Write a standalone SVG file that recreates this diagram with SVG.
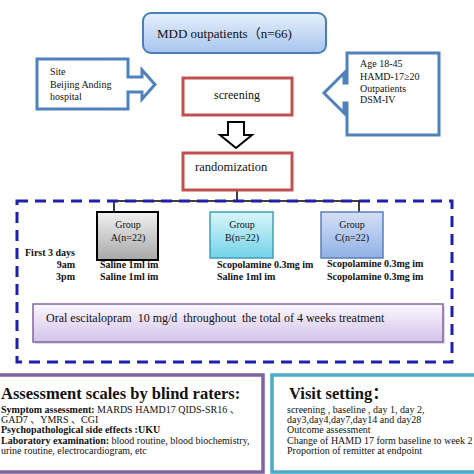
<svg xmlns="http://www.w3.org/2000/svg" width="474" height="474" viewBox="0 0 474 474">
<defs>
<linearGradient id="gMdd" x1="0" y1="0" x2="0" y2="1"><stop offset="0" stop-color="#e6f0fc"/><stop offset="1" stop-color="#a7c4ee"/></linearGradient>
<linearGradient id="gA" x1="0" y1="0" x2="0" y2="1"><stop offset="0" stop-color="#f0f0f0"/><stop offset="1" stop-color="#a8a8a8"/></linearGradient>
<linearGradient id="gB" x1="0" y1="0" x2="0" y2="1"><stop offset="0" stop-color="#d9f6fb"/><stop offset="1" stop-color="#73d2e8"/></linearGradient>
<linearGradient id="gC" x1="0" y1="0" x2="0" y2="1"><stop offset="0" stop-color="#d5e0f5"/><stop offset="1" stop-color="#8fb1e5"/></linearGradient>
<linearGradient id="gO" x1="0" y1="0" x2="0" y2="1"><stop offset="0" stop-color="#fbf8fe"/><stop offset="1" stop-color="#d3c2ea"/></linearGradient>
</defs>
<style>
text{font-family:"Liberation Serif","Noto Sans CJK SC",serif;fill:#111}
.s10{font-size:10px}
.b{font-weight:bold}
.red{fill:#fff;stroke:#c0504d;stroke-width:3}
.blu{fill:#fff;stroke:#4f81bd;stroke-width:3}
.mid{text-anchor:middle}
.end{text-anchor:end}
</style>
<rect width="474" height="474" fill="#fff"/>
<g id="connectors" fill="none">
<path d="M237,190 V201 M114,201 H359 M114,201 V212 M359,201 V212" stroke="#000" stroke-width="1.5"/>
</g>
<g id="trial-box">
<rect x="17" y="201" width="435" height="161" fill="none" stroke="#1f1fb0" stroke-width="3" stroke-dasharray="11 7"/>
</g>
<g id="mdd">
<rect x="143" y="13" width="183" height="40" rx="8" fill="url(#gMdd)" stroke="#4a7ebb" stroke-width="2"/>
<text x="157" y="38" font-size="13">MDD outpatients（n=66)</text>
</g>
<g id="site">
<path d="M37,59 H128 V77 H142 V70 L155,84.5 L142,99 V92 H128 V109 H37 Z" class="blu"/>
<text class="s10" x="50" y="75">Site</text>
<text class="s10" x="50" y="88">Beijing Anding</text>
<text class="s10" x="50" y="100">hospital</text>
</g>
<g id="criteria">
<path d="M347,53 H439 V135 H347 V103 H344 V113 L324,93 L344,73 V83 H347 Z" class="blu"/>
<text class="s10" x="360" y="67">Age 18-45</text>
<text class="s10" x="360" y="80">HAMD-17≥20</text>
<text class="s10" x="360" y="92">Outpatients</text>
<text class="s10" x="360" y="103">DSM-IV</text>
</g>
<g id="screening">
<rect x="183" y="78" width="109" height="37" class="red"/>
<text x="237" y="99" font-size="12" class="mid">screening</text>
</g>
<g id="arrow-down">
<path d="M228,122 H244 V135 H252 L236,148 L220,135 H228 Z" fill="#fff" stroke="#000" stroke-width="2"/>
</g>
<g id="randomization">
<rect x="183" y="153" width="109" height="37" class="red"/>
<text x="195" y="171" font-size="12.5">randomization</text>
</g>
<g id="groupA">
<rect x="97" y="212" width="61" height="48" fill="url(#gA)" stroke="#000" stroke-width="2"/>
<text class="s10 mid" x="128" y="228">Group</text>
<text class="s10 mid" x="128" y="241">A(n=22)</text>
</g>
<g id="groupB">
<rect x="210" y="212" width="63" height="46" fill="url(#gB)" stroke="#3f9fb8" stroke-width="1.5"/>
<text class="s10 mid" x="242" y="228">Group</text>
<text class="s10 mid" x="242" y="241">B(n=22)</text>
</g>
<g id="groupC">
<rect x="321" y="212" width="62" height="46" fill="url(#gC)" stroke="#5a7fb8" stroke-width="1.5"/>
<text class="s10 mid" x="352" y="228">Group</text>
<text class="s10 mid" x="352" y="241">C(n=22)</text>
</g>
<g id="dosing">
<text class="s10 b" x="25" y="256">First 3 days</text>
<text class="s10 b end" x="75" y="268">9am</text>
<text class="s10 b end" x="75" y="280">3pm</text>
<text class="s10 b" x="100" y="268">Saline 1ml im</text>
<text class="s10 b" x="100" y="280">Saline 1ml im</text>
<text class="s10 b" x="217" y="268">Scopolamine 0.3mg im</text>
<text class="s10 b" x="217" y="280">Saline 1ml im</text>
<text class="s10 b" x="327" y="267">Scopolamine 0.3mg im</text>
<text class="s10 b" x="327" y="280">Scopolamine 0.3mg im</text>
</g>
<g id="oral">
<rect x="35" y="306" width="410" height="38" fill="#c8c0d4" opacity="0.6"/>
<rect x="33" y="304" width="410" height="38" fill="url(#gO)" stroke="#8064a2" stroke-width="1.5"/>
<text x="46" y="322" font-size="12" xml:space="preserve">Oral escitalopram  10 mg/d  throughout  the total of 4 weeks treatment</text>
</g>
<g id="assessment">
<rect x="-10" y="375" width="273" height="97" fill="#fff" stroke="#7f64a2" stroke-width="3.5"/>
<text x="1" y="399" font-size="16.5" class="b">Assessment scales by blind raters:</text>
<text class="s10" x="1" y="413"><tspan class="b">Symptom assessment:</tspan> MARDS  HAMD17 QIDS-SR16 、</text>
<text class="s10" x="1" y="423">GAD7 、YMRS 、CGI</text>
<text class="s10 b" x="1" y="433">Psychopathological side effects :UKU</text>
<text class="s10" x="1" y="444"><tspan class="b">Laboratory  examination:</tspan> blood routine, blood biochemistry,</text>
<text class="s10" x="1" y="454">urine routine, electrocardiogram,  etc</text>
</g>
<g id="visit">
<rect x="272" y="375" width="215" height="97" fill="#fff" stroke="#4bacc6" stroke-width="3.5"/>
<text x="289" y="399" font-size="16.5" class="b">Visit setting：</text>
<text class="s10" x="287" y="413">screening  , baseline  , day 1,  day 2,</text>
<text class="s10" x="287" y="423">day3,day4,day7,day14 and day28</text>
<text class="s10" x="287" y="433">Outcome assessment</text>
<text class="s10" x="287" y="444">Change  of HAMD 17 form baseline  to week 2</text>
<text class="s10" x="287" y="454">Proportion of remitter at endpoint</text>
</g>
</svg>
